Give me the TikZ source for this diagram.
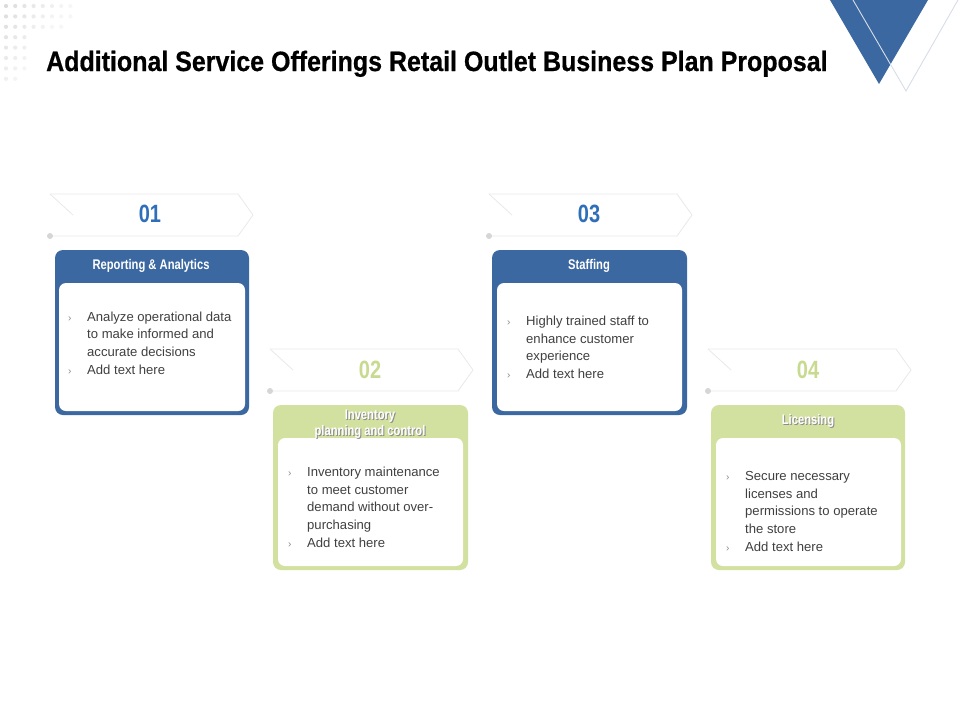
\documentclass[tikz,border=0pt]{standalone}
\usepackage{fontspec}
\setmainfont{Liberation Sans}
\newfontfamily\cond[FakeStretch=0.8]{Liberation Sans}
\newfontfamily\condt[FakeStretch=0.892,BoldFeatures={FakeBold=0.6}]{Liberation Sans}
\definecolor{cblue}{HTML}{3B68A0}
\definecolor{nblue}{HTML}{2F6FBA}
\definecolor{cgreen}{HTML}{D2E0A0}
\definecolor{ngreen}{HTML}{C8DA90}
\definecolor{btext}{HTML}{404040}
\definecolor{faint}{HTML}{E9E9E9}
\definecolor{dotc}{HTML}{D6D6D6}
\definecolor{tline}{HTML}{D8DEE8}
\begin{document}
\begin{tikzpicture}[x=1pt,y=-1pt,
  chev/.style={draw=faint,line width=0.8pt},
  num/.style={font=\cond\bfseries\fontsize{25}{27}\selectfont},
  card/.style={rounded corners=8pt},
  inner/.style={fill=white,rounded corners=7pt},
  hdr/.style={font=\cond\bfseries\fontsize{14}{16}\selectfont,text=white,align=center},
  hsh/.style={font=\cond\bfseries\fontsize{14}{16}\selectfont,text=black!45,align=center},
  body/.style={font=\fontsize{13.1}{17.5}\selectfont,text=btext,anchor=base west,inner sep=0pt},
  bul/.style={font=\fontsize{10}{12}\selectfont,text=black!45,anchor=base west,inner sep=0pt}]
\useasboundingbox (0,0) rectangle (960,720);
\fill[white] (0,0) rectangle (960,720);
% dot grid
\foreach \r/\n in {0/8,1/8,2/7,3/3,4/3,5/3,6/3,7/2}{
  \foreach \c in {1,...,\n}{
    \pgfmathsetmacro{\op}{max(0.2,0.85-0.1*(\c-1)-0.07*\r)}
    \fill[dotc,opacity=\op] (6+9.2*\c-9.2,6+10.4*\r) circle (2.1);
  }
}
% triangles
\fill[cblue] (830,0) -- (928,0) -- (879,84) -- cycle;
\draw[tline,line width=0.9pt] (853,0) -- (906,91) -- (958,0);
% title
\node[anchor=base west,inner sep=0pt,font=\condt\bfseries\fontsize{28}{30}\selectfont] (title) at (46,71) {Additional Service Offerings Retail Outlet Business Plan Proposal};
% chevrons
\foreach \x/\y in {50/194,270/349,489/194,708/349}{
  \draw[chev] (\x,\y) -- (\x+188,\y) -- (\x+203,\y+21) -- (\x+188,\y+42) -- (\x,\y+42);
  \draw[chev] (\x,\y) -- (\x+23,\y+21);
  \fill[dotc] (\x,\y+42) circle (3);
}
\node[num,text=nblue] (n1) at (150,214) {01};
\node[num,text=ngreen] (n2) at (370,370) {02};
\node[num,text=nblue] (n3) at (589,214) {03};
\node[num,text=ngreen] (n4) at (808,370) {04};
% cards
\fill[card,cblue] (55,250) rectangle (249,415);
\fill[inner] (59,283) rectangle (245,411);
\fill[card,cgreen] (273,405) rectangle (468,570);
\fill[inner] (278,438) rectangle (463,566);
\fill[card,cblue] (492,250) rectangle (687,415);
\fill[inner] (497,283) rectangle (682,411);
\fill[card,cgreen] (711,405) rectangle (905,570);
\fill[inner] (716,438) rectangle (901,566);
% headers
\node[hdr] (h1) at (151,266) {Reporting \& Analytics};
\node[hsh] at (371,424.8) {Inventory\\planning and control};
\node[hdr] (h2) at (370,424) {Inventory\\planning and control};
\node[hdr] (h3) at (589,266) {Staffing};
\node[hsh] at (809,421.8) {Licensing};
\node[hdr] (h4) at (808,421) {Licensing};
% body texts
\node[bul] at (68,321) {›};
\node[body] (t1a) at (87,321) {Analyze operational data};
\node[body] at (87,338.5) {to make informed and};
\node[body] at (87,356) {accurate decisions};
\node[bul] at (68,374) {›};
\node[body] (t1b) at (87,374) {Add text here};

\node[bul] at (288,476) {›};
\node[body] (t2a) at (307,476) {Inventory maintenance};
\node[body] at (307,494) {to meet customer};
\node[body] at (307,511) {demand without over-};
\node[body] at (307,529) {purchasing};
\node[bul] at (288,547) {›};
\node[body] (t2b) at (307,547) {Add text here};

\node[bul] at (507,325) {›};
\node[body] (t3a) at (526,325) {Highly trained staff to};
\node[body] at (526,343) {enhance customer};
\node[body] at (526,360) {experience};
\node[bul] at (507,378) {›};
\node[body] (t3b) at (526,378) {Add text here};

\node[bul] at (726,480) {›};
\node[body] (t4a) at (745,480) {Secure necessary};
\node[body] at (745,498) {licenses and};
\node[body] at (745,515) {permissions to operate};
\node[body] at (745,533) {the store};
\node[bul] at (726,551) {›};
\node[body] (t4b) at (745,551) {Add text here};
\end{tikzpicture}
\end{document}
